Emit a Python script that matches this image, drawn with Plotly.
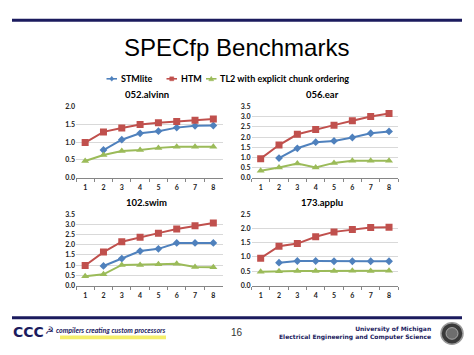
import plotly.graph_objects as go

# ---------------- data ----------------
threads = ["1", "2", "3", "4", "5", "6", "7", "8"]
series_names = ["STMlite", "HTM", "TL2 with explicit chunk ordering"]

alvinn_stmlite = [None, 0.78, 1.07, 1.25, 1.31, 1.41, 1.46, 1.47]
alvinn_htm = [0.99, 1.29, 1.40, 1.50, 1.55, 1.58, 1.62, 1.65]
alvinn_tl2 = [0.47, 0.64, 0.75, 0.78, 0.84, 0.87, 0.87, 0.87]

ear_stmlite = [None, 0.97, 1.45, 1.75, 1.81, 1.98, 2.19, 2.28]
ear_htm = [0.94, 1.61, 2.14, 2.38, 2.59, 2.81, 3.02, 3.16]
ear_tl2 = [0.34, 0.50, 0.70, 0.50, 0.73, 0.84, 0.84, 0.84]

swim_stmlite = [None, 0.96, 1.32, 1.69, 1.80, 2.09, 2.09, 2.09]
swim_htm = [0.98, 1.64, 2.15, 2.37, 2.57, 2.77, 2.93, 3.07]
swim_tl2 = [0.45, 0.55, 1.01, 1.01, 1.04, 1.07, 0.91, 0.90]

applu_stmlite = [None, 0.80, 0.86, 0.86, 0.85, 0.85, 0.85, 0.85]
applu_htm = [0.96, 1.38, 1.47, 1.71, 1.88, 1.96, 2.03, 2.04]
applu_tl2 = [0.48, 0.50, 0.51, 0.51, 0.51, 0.52, 0.51, 0.52]

benchmarks = ["052.alvinn", "056.ear", "102.swim", "173.applu"]
y_max = [2.0, 3.5, 3.5, 2.5]

slide_title = "SPECfp Benchmarks"
page_number = "16"

# ---------------- styling ----------------
W, H = 474, 355
colors = ["#4F81BD", "#C0504D", "#9BBB59"]
symbols = ["diamond", "square", "triangle-up"]
msizes = [6, 7, 7]
NAVY = "#1B1B5E"
FONT = "Lato"


def px_x(v):
    return v / W


def px_y(v):
    return 1 - v / H


panels = [
    (benchmarks[0], [alvinn_stmlite, alvinn_htm, alvinn_tl2], (76, 222.5), (104, 176.7), y_max[0]),
    (benchmarks[1], [ear_stmlite, ear_htm, ear_tl2], (251.5, 398.2), (104, 176.7), y_max[1]),
    (benchmarks[2], [swim_stmlite, swim_htm, swim_tl2], (76, 222.5), (214, 287), y_max[2]),
    (benchmarks[3], [applu_stmlite, applu_htm, applu_tl2], (251.5, 398.2), (214, 287), y_max[3]),
]

fig = go.Figure()
annotations = []
shapes = []

for i, (name, data, (x0, x1), (yt, yb), ymax) in enumerate(panels):
    k = "" if i == 0 else str(i + 1)
    for s in range(3):
        fig.add_trace(go.Scatter(
            x=threads, y=data[s], mode="lines+markers", name=series_names[s],
            line=dict(color=colors[s], width=2),
            marker=dict(symbol=symbols[s], size=msizes[s], color=colors[s]),
            xaxis="x" + k, yaxis="y" + k,
            showlegend=False, legendgroup=series_names[s],
            connectgaps=False,
        ))
    fig.layout["xaxis" + k] = dict(
        domain=[px_x(x0), px_x(x1)], anchor="y" + k, type="category",
        range=[-0.5, 7.5], showgrid=False, showline=True, linecolor="#868686",
        linewidth=1, ticks="outside", ticklen=3, tickcolor="#868686",
        tickson="boundaries", ticklabelstandoff=3,
        tickfont=dict(family=FONT, size=7, color="#222", weight="bold"),
        fixedrange=True, zeroline=False,
    )
    fig.layout["yaxis" + k] = dict(
        domain=[px_y(yb), px_y(yt)], anchor="x" + k, range=[0, ymax],
        dtick=0.5, tickformat=".1f", showgrid=True, gridcolor="#D9D9D9",
        gridwidth=1, showline=False, zeroline=False, ticks="",
        tickfont=dict(family=FONT, size=7, color="#222", weight="bold"),
        fixedrange=True,
    )
    annotations.append(dict(
        text="<b>%s</b>" % name, x=(px_x(x0) + px_x(x1)) / 2 - 0.005,
        y=px_y(yt - 12), xref="paper", yref="paper", showarrow=False,
        font=dict(family=FONT, size=9.5, color="#000"), xanchor="center", yanchor="middle",
    ))

# ---------------- legend (drawn as shapes + text) ----------------
leg_y = 75.5
leg_items = [(106.5, 117), (166.5, 177), (206, 216.5)]
for s, (lx0, lx1) in enumerate(leg_items):
    shapes.append(dict(type="line", xref="paper", yref="paper", x0=px_x(lx0), x1=px_x(lx1),
                       y0=px_y(leg_y), y1=px_y(leg_y), line=dict(color=colors[s], width=1.6)))
    cx = (lx0 + lx1) / 2
    if s == 0:
        path = "M %f %f L %f %f L %f %f L %f %f Z" % (
            px_x(cx), px_y(leg_y - 2.5), px_x(cx + 2), px_y(leg_y),
            px_x(cx), px_y(leg_y + 2.5), px_x(cx - 2), px_y(leg_y))
    elif s == 1:
        path = "M %f %f L %f %f L %f %f L %f %f Z" % (
            px_x(cx - 2), px_y(leg_y - 2), px_x(cx + 2), px_y(leg_y - 2),
            px_x(cx + 2), px_y(leg_y + 2), px_x(cx - 2), px_y(leg_y + 2))
    else:
        path = "M %f %f L %f %f L %f %f Z" % (
            px_x(cx), px_y(leg_y - 2.5), px_x(cx + 2.5), px_y(leg_y + 2),
            px_x(cx - 2.5), px_y(leg_y + 2))
    shapes.append(dict(type="path", xref="paper", yref="paper", path=path,
                       fillcolor=colors[s], line=dict(color=colors[s], width=0.5)))
    annotations.append(dict(
        text="<b>%s</b>" % series_names[s], x=px_x(lx1 + 1.5), y=px_y(leg_y),
        xref="paper", yref="paper", showarrow=False, xanchor="left", yanchor="middle",
        font=dict(family=FONT, size=9, color="#000"),
    ))

# slide title
annotations.append(dict(
    text=slide_title, x=px_x(236), y=px_y(43), xref="paper", yref="paper",
    showarrow=False, font=dict(family="Liberation Sans", size=24, color="#000"),
    xanchor="center", yanchor="middle",
))

# header / footer rules
shapes.append(dict(type="line", xref="paper", yref="paper", x0=px_x(12), x1=px_x(462),
                   y0=px_y(15.5), y1=px_y(15.5), line=dict(color=NAVY, width=3)))
shapes.append(dict(type="line", xref="paper", yref="paper", x0=px_x(12), x1=px_x(462),
                   y0=px_y(320), y1=px_y(320), line=dict(color=NAVY, width=3)))

# footer: logo text, tagline, yellow bar
shapes.append(dict(type="rect", xref="paper", yref="paper", x0=px_x(60), x1=px_x(166),
                   y0=px_y(342), y1=px_y(338), fillcolor="#F4EE6A", line=dict(width=0),
                   layer="below"))
annotations.append(dict(
    text="<b>CCC</b>", x=px_x(11), y=px_y(335), xref="paper", yref="paper",
    showarrow=False, font=dict(family="DejaVu Sans", size=14, color=NAVY),
    xanchor="left", yanchor="middle",
))
annotations.append(dict(
    text="☭", x=px_x(43), y=px_y(333), xref="paper", yref="paper",
    showarrow=False, font=dict(family="DejaVu Sans", size=10, color=NAVY),
    xanchor="left", yanchor="middle",
))
annotations.append(dict(
    text="<i><b>compilers creating custom processors</b></i>", x=px_x(54), y=px_y(332),
    xref="paper", yref="paper", showarrow=False,
    font=dict(family=FONT, size=7, color=NAVY), xanchor="left", yanchor="middle",
))
annotations.append(dict(
    text=page_number, x=px_x(237), y=px_y(335), xref="paper", yref="paper",
    showarrow=False, font=dict(family="Liberation Sans", size=10, color="#333"),
    xanchor="center", yanchor="middle",
))
annotations.append(dict(
    text="<b>University of Michigan</b><br><b>Electrical Engineering and Computer Science</b>",
    x=px_x(433), y=px_y(335.5), xref="paper", yref="paper", showarrow=False, align="right",
    font=dict(family="DejaVu Sans", size=6, color=NAVY), xanchor="right", yanchor="middle",
))
# university seal
shapes.append(dict(type="circle", xref="paper", yref="paper", x0=px_x(441), x1=px_x(463),
                   y0=px_y(347), y1=px_y(325), fillcolor="#3A3A3A",
                   line=dict(color="#9A9A9A", width=1.5)))
shapes.append(dict(type="circle", xref="paper", yref="paper", x0=px_x(446), x1=px_x(458),
                   y0=px_y(342), y1=px_y(330), fillcolor="#6E6E6E",
                   line=dict(color="#BBBBBB", width=0.8)))

fig.update_layout(
    width=W, height=H, margin=dict(l=0, r=0, t=0, b=0),
    paper_bgcolor="#FFFFFF", plot_bgcolor="#FFFFFF",
    annotations=annotations, shapes=shapes,
    showlegend=False,
)

fig.write_html("out.html", config={"displayModeBar": False},
               post_script="document.body.style.margin='0';")
